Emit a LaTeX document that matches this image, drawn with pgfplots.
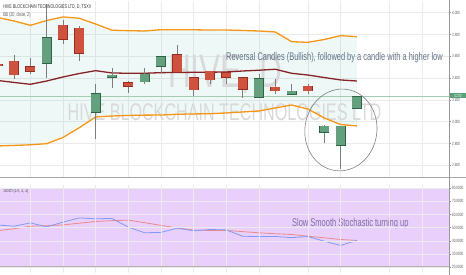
\documentclass[border=0pt]{standalone}
\usepackage{fontspec}
\setmainfont{Liberation Sans}[FakeStretch=0.67]
\usepackage{pgfplots}
\usepackage{pgfplotstable}
\usepgfplotslibrary{fillbetween}
\pgfplotsset{compat=1.18}

\definecolor{bbfill}{RGB}{0,150,136}
\definecolor{bborange}{RGB}{247,150,20}
\definecolor{bbmid}{RGB}{135,35,40}
\definecolor{cred}{RGB}{207,82,62}
\definecolor{credb}{RGB}{150,45,35}
\definecolor{cgreen}{RGB}{100,160,125}
\definecolor{cgreenb}{RGB}{45,100,70}
\definecolor{wick}{RGB}{125,125,128}
\definecolor{stochfill}{RGB}{233,208,252}
\definecolor{kline}{RGB}{125,155,250}
\definecolor{dline}{RGB}{240,135,135}
\definecolor{tickc}{RGB}{90,90,90}
\definecolor{annot}{RGB}{100,115,135}
\definecolor{annot2}{RGB}{125,110,165}
\definecolor{tag}{RGB}{90,160,120}

\pgfplotstableread{
x o h l c
0 3.527 3.540 3.500 3.510
1 3.557 3.609 3.389 3.428
2 3.508 3.582 3.435 3.462
4 3.887 3.933 3.713 3.752
5 3.857 3.878 3.557 3.624
8 3.358 3.373 3.266 3.321
11 3.618 3.708 3.447 3.450
12 3.404 3.410 3.236 3.291
13 3.465 3.465 3.346 3.383
14 3.450 3.456 3.343 3.404
15 3.404 3.405 3.220 3.297
17 3.318 3.392 3.251 3.282
19 3.328 3.349 3.257 3.282
}\downcandles

\pgfplotstableread{
x o h l c
3 3.532 4.080 3.404 3.771
6 3.083 3.349 2.839 3.257
7 3.404 3.495 3.306 3.428
9 3.364 3.495 3.349 3.435
10 3.505 3.596 3.450 3.596
16 3.220 3.438 3.220 3.394
18 3.251 3.343 3.251 3.282
20 2.899 2.965 2.807 2.961
21 2.783 2.961 2.563 2.961
22 3.123 3.236 3.123 3.230
}\upcandles

\pgfplotstableread{
x up mid lo
0 3.956 3.378 2.777
1 3.924 3.360 2.782
2 3.884 3.343 2.788
3 3.928 3.373 2.798
4 3.961 3.410 2.855
5 3.949 3.442 2.945
6 3.896 3.468 3.043
7 3.839 3.447 3.052
8 3.835 3.444 3.057
9 3.832 3.444 3.060
10 3.844 3.450 3.061
11 3.844 3.451 3.068
12 3.843 3.453 3.071
13 3.841 3.454 3.073
14 3.841 3.456 3.080
15 3.837 3.465 3.089
16 3.832 3.472 3.098
17 3.823 3.481 3.126
18 3.734 3.444 3.153
19 3.728 3.428 3.116
20 3.754 3.405 3.034
21 3.789 3.383 2.974
22 3.780 3.373 2.961
}\bbands

\pgfplotstableread{
x k d
0 52.0 47.7
1 51.1 49.2
2 53.6 51.1
3 50.6 51.5
4 54.2 52.1
5 57.4 53.4
6 56.7 54.7
7 57.0 55.3
8 50.4 55.7
9 46.1 53.8
10 46.4 51.7
11 49.6 49.8
12 47.6 48.1
13 48.6 47.9
14 48.3 47.9
15 43.5 47.0
16 43.2 46.1
17 43.3 45.4
18 42.4 44.8
19 43.3 43.5
20 39.7 42.3
21 36.5 41.0
22 40.3 40.3
}\stoch

\pgfplotsset{
  candlewick/.style={draw=none, mark=none, forget plot,
    error bars/.cd, y dir=both, y explicit, error mark=none,
    error bar style={draw=wick, solid, line width=0.8pt}},
  candlebody/.style 2 args={draw=none, mark=none, forget plot,
    error bars/.cd, y dir=both, y explicit, error mark=none,
    error bar style={draw=#1, solid, line width=#2}},
}

\begin{document}
\begin{tikzpicture}[x=1pt,y=1pt]
% ---------- main price panel ----------
\begin{axis}[
  at={(0,89)}, anchor=south west, scale only axis,
  width=449pt, height=177pt,
  xmin=0.143, xmax=27.64, ymin=2.4835, ymax=4.1073,
  axis line style={draw=none},
  xtick={2,4,6,8,10,12,14,16,19,21,24,26}, xticklabels={},
  xtick style={draw=none},
  ytick={2.6,2.8,3.0,3.2,3.4,3.6,3.8,4.0},
  ytick pos=right, yticklabel pos=right,
  tick align=outside, major tick length=2pt,
  ytick style={draw=black!45, line width=0.4pt},
  grid=major, grid style={black!8, line width=0.5pt},
  yticklabel style={font=\fontsize{4.6}{5}\selectfont, color=tickc, inner sep=1pt,
    /pgf/number format/.cd, fixed, fixed zerofill, precision=3, assume math mode=true},
  clip=true,
]
% watermarks
\node[text=black!15, font=\fontsize{47}{50}\selectfont] at (axis cs:13.92,3.438) {HIVE, D};
\node[text=black!15, font=\fontsize{24.1}{26}\selectfont] at (axis cs:13.89,3.084) {HIVE BLOCKCHAIN TECHNOLOGIES LTD};
% last price line
\addplot[forget plot, color=tag!55, line width=0.5pt] coordinates {(0.143,3.23) (27.64,3.23)};
% Bollinger bands
\addplot[name path=up, draw=none, forget plot] table[x=x, y=up] {\bbands};
\addplot[name path=lo, draw=none, forget plot] table[x=x, y=lo] {\bbands};
\addplot[fill=bbfill, fill opacity=0.07, draw=none, forget plot] fill between[of=up and lo];
\addplot[bborange, line width=1.3pt, forget plot] table[x=x, y=up] {\bbands};
\addplot[bborange, line width=1.3pt, forget plot] table[x=x, y=lo] {\bbands};
\addplot[bbmid, line width=1.3pt, forget plot] table[x=x, y=mid] {\bbands};
% wicks
\addplot[candlewick] table[x=x, y expr={(\thisrow{h}+\thisrow{l})/2}, y error expr={(\thisrow{h}-\thisrow{l})/2}] {\downcandles};
\addplot[candlewick] table[x=x, y expr={(\thisrow{h}+\thisrow{l})/2}, y error expr={(\thisrow{h}-\thisrow{l})/2}] {\upcandles};
% bodies: border then fill
\addplot[candlebody={credb}{10pt}] table[x=x, y expr={(\thisrow{o}+\thisrow{c})/2}, y error expr={abs(\thisrow{o}-\thisrow{c})/2+0.003}] {\downcandles};
\addplot[candlebody={cred}{9pt}] table[x=x, y expr={(\thisrow{o}+\thisrow{c})/2}, y error expr={max(abs(\thisrow{o}-\thisrow{c})/2-0.002,0.0005)}] {\downcandles};
\addplot[candlebody={cgreenb}{10pt}] table[x=x, y expr={(\thisrow{o}+\thisrow{c})/2}, y error expr={abs(\thisrow{o}-\thisrow{c})/2+0.003}] {\upcandles};
\addplot[candlebody={cgreen}{9pt}] table[x=x, y expr={(\thisrow{o}+\thisrow{c})/2}, y error expr={max(abs(\thisrow{o}-\thisrow{c})/2-0.002,0.0005)}] {\upcandles};
% annotations
\node[anchor=base west, text=annot, font=\fontsize{11.1}{12}\selectfont, inner sep=0pt] at (axis cs:13.98,3.557) {Reversal Candles (Bullish), followed by a candle with a higher low};
\draw[black!50, line width=0.6pt, rotate around={-8:(axis cs:21.02,2.924)}] (axis cs:21.02,2.924) ellipse [x radius=36pt, y radius=41pt];
\node[anchor=base west, text=black!80, font=\fontsize{5.5}{6}\selectfont, inner sep=0pt] at (axis cs:0.33,4.0385) {HIVE BLOCKCHAIN TECHNOLOGIES LTD, D, TSXV};
\node[anchor=base west, text=black!65, font=\fontsize{5.5}{6}\selectfont, inner sep=0pt] at (axis cs:0.33,3.965) {BB (20, close, 2)};
\end{axis}
% price tag
\node[anchor=west, fill=tag, text=white, font=\fontsize{4.4}{5}\selectfont, inner xsep=1pt, inner ysep=0pt, minimum height=5.5pt, minimum width=17pt] at (449,{98+177*(3.23-2.4835)/(4.1073-2.4835)}) {3.230};
% ---------- stochastic panel ----------
\begin{axis}[
  at={(0,14)}, anchor=south west, scale only axis,
  width=449pt, height=88pt,
  xmin=0.143, xmax=27.64, ymin=15.44, ymax=82.28,
  axis line style={draw=none},
  axis on top,
  xtick={2,4,6,8,10,12,14,16,19,21,24,26},
  xticklabels={18,20,22,28,\textbf{2018},4,8,10,15,17,22,24},
  xtick style={draw=none},
  ytick={20,30,40,50,60,70,80},
  ytick pos=right, yticklabel pos=right,
  tick align=outside, major tick length=2pt,
  ytick style={draw=black!45, line width=0.4pt},
  grid=major, grid style={black!8, line width=0.5pt},
  xticklabel style={font=\fontsize{4.6}{5}\selectfont, color=tickc, inner sep=0pt, yshift=-1.5pt},
  yticklabel style={font=\fontsize{4.6}{5}\selectfont, color=tickc, inner sep=1pt,
    /pgf/number format/.cd, fixed, fixed zerofill, precision=4, assume math mode=true},
]
\addplot[fill=stochfill, draw=none, forget plot] coordinates {(0.143,20) (27.64,20) (27.64,80) (0.143,80)} -- cycle;
\addplot[black!45, line width=0.5pt, dash pattern=on 1pt off 1pt, forget plot] coordinates {(0.143,80) (27.64,80)};
\addplot[black!45, line width=0.5pt, dash pattern=on 1pt off 1pt, forget plot] coordinates {(0.143,20) (27.64,20)};
\addplot[dline, line width=0.8pt, forget plot] table[x=x, y=d] {\stoch};
\addplot[kline, line width=0.8pt, forget plot] table[x=x, y=k] {\stoch};
\node[anchor=base west, text=black!65, font=\fontsize{5.5}{6}\selectfont, inner sep=0pt] at (axis cs:0.33,76.6) {Stoch (14, 3, 3)};
\node[anchor=base west, text=annot2, font=\fontsize{11.2}{12}\selectfont, inner sep=0pt] at (axis cs:18.02,50.6) {Slow Smooth Stochastic turning up};
\end{axis}
% frame lines
\draw[black!35, line width=1.3pt] (0,97.3) -- (466,97.3);
\draw[black!30, line width=0.7pt] (0,8.3) -- (449,8.3);
\draw[black!40, line width=0.6pt] (449,0) -- (449,275);
\pgfresetboundingbox
\useasboundingbox (0,0) rectangle (466,275);
\end{tikzpicture}
\end{document}
